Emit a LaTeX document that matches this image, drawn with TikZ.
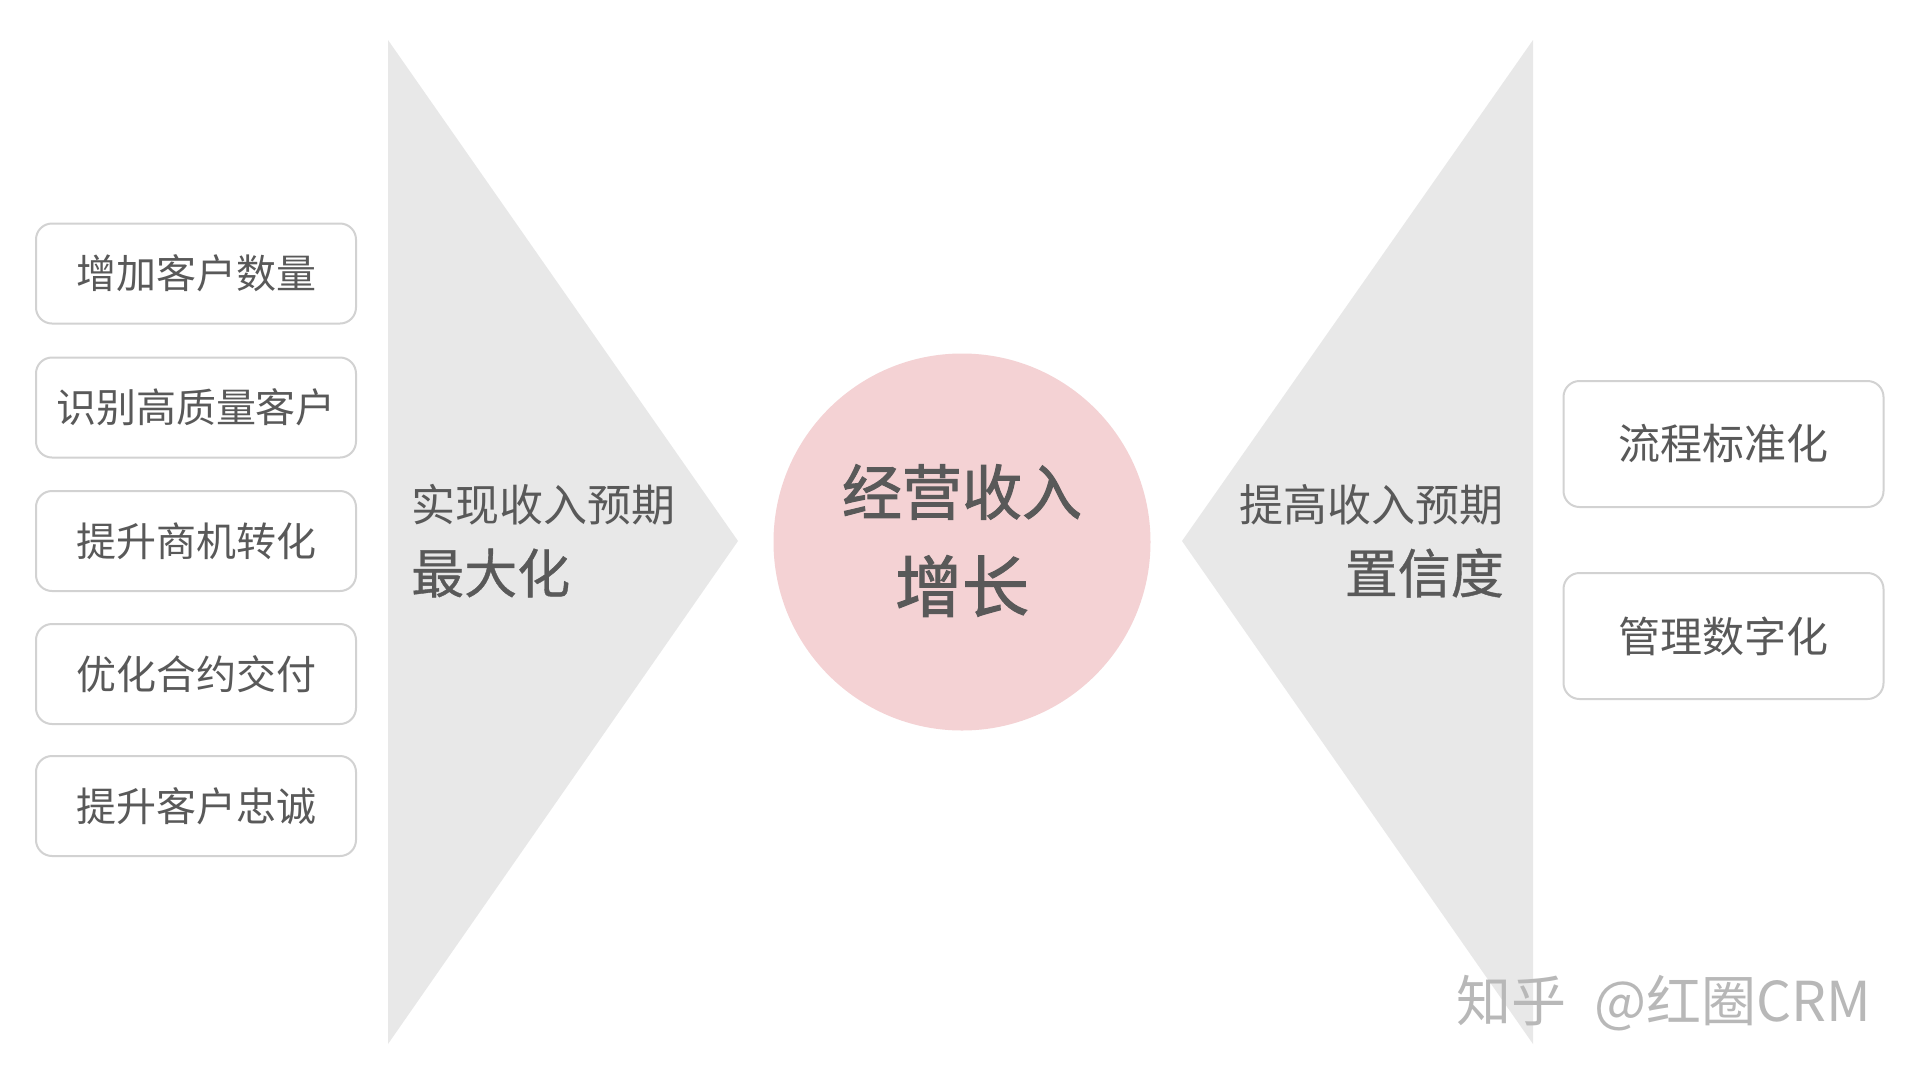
\documentclass[tikz,border=0pt]{standalone}
\usepackage{fontspec}
\setmainfont{Noto Sans CJK SC}
\newfontfamily\cjkmed{Noto Sans CJK SC}[FakeBold=1.6]
\newfontfamily\cjksemi{Noto Sans CJK SC}[FakeBold=0.7]
\definecolor{tric}{HTML}{E8E8E8}
\definecolor{pinkc}{HTML}{F4D2D4}
\definecolor{txtc}{HTML}{595959}
\definecolor{boxc}{HTML}{D2D2D2}
\definecolor{wmc}{HTML}{B8B8B8}
\tikzset{
  trishape/.style={fill=tric},
  itembox/.style={draw=boxc, line width=2pt, rounded corners=16pt, fill=white,
    minimum width=320pt, inner sep=0pt, text=txtc, font=\fontsize{40}{48}\selectfont},
  lbox/.style={itembox, minimum height=100pt},
  rbox/.style={itembox, minimum height=126pt, font=\fontsize{42}{50}\selectfont},
  midtxt/.style={inner sep=0pt, text=txtc, font=\fontsize{44}{52}\selectfont},
  midbig/.style={inner sep=0pt, text=txtc, font=\cjksemi\fontsize{53}{62}\selectfont},
  coretxt/.style={inner sep=0pt, text=txtc},
}
\begin{document}
\begin{tikzpicture}[x=1pt,y=-1pt]
\useasboundingbox (0,0) rectangle (1920,1080);
\fill[white] (0,0) rectangle (1920,1080);
% funnels
\fill[trishape] (388,40) -- (738,541) -- (388,1044) -- cycle;
\fill[trishape] (1533,40) -- (1182,541) -- (1533,1044) -- cycle;
% core
\node[circle, fill=pinkc, minimum size=377pt, inner sep=0pt] (core) at (962,542) {};
\node[coretxt, font=\cjkmed\fontsize{60}{70}\selectfont] (c1) at (962,492) {经营收入};
\node[coretxt, font=\cjkmed\fontsize{67}{78}\selectfont] (c2) at (962,586) {增长};
% left items
\node[lbox] (l1) at (196,273.5) {增加客户数量};
\node[lbox] (l2) at (196,407.5) {识别高质量客户};
\node[lbox] (l3) at (196,541) {提升商机转化};
\node[lbox] (l4) at (196,674) {优化合约交付};
\node[lbox] (l5) at (196,806) {提升客户忠诚};
% right items
\node[rbox] (r1) at (1723.5,444) {流程标准化};
\node[rbox] (r2) at (1723.5,636) {管理数字化};
% middle labels
\node[midtxt, anchor=west] (m1) at (411,505) {实现收入预期};
\node[midbig, anchor=west] (m2) at (411,573) {最大化};
\node[midtxt, anchor=east] (n1) at (1504,505) {提高收入预期};
\node[midbig, anchor=east] (n2) at (1504,573) {置信度};
% watermark
\node[inner sep=0pt, anchor=west, text=wmc, font=\fontsize{55}{64}\selectfont] (wm) at (1456,1003) {知乎\hspace{28pt}@红圈CRM};
\end{tikzpicture}
\end{document}
